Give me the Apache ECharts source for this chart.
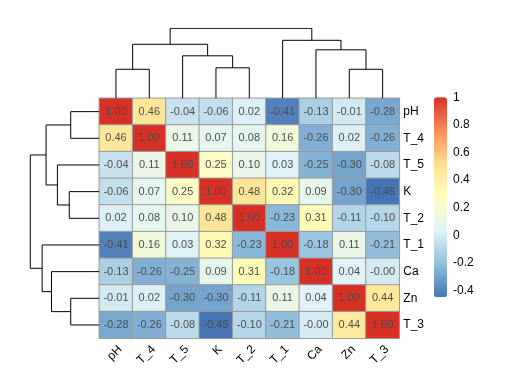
<!DOCTYPE html>
<html>
<head>
<meta charset="utf-8">
<script src="https://cdn.jsdelivr.net/npm/echarts@6/dist/echarts.min.js"></script>
<style>html,body{margin:0;padding:0;background:#fff}#c{width:517px;height:379px}</style>
</head>
<body>
<div id="c"></div>
<script>
// Variables in clustered order (rows and columns)
const labels = ['pH','T_4','T_5','K','T_2','T_1','Ca','Zn','T_3'];
// Correlation matrix (row by row, same order as labels)
const rowPH  = [ 1.00, 0.46,-0.04,-0.06, 0.02,-0.41,-0.13,-0.01,-0.28];
const rowT4  = [ 0.46, 1.00, 0.11, 0.07, 0.08, 0.16,-0.26, 0.02,-0.26];
const rowT5  = [-0.04, 0.11, 1.00, 0.25, 0.10, 0.03,-0.25,-0.30,-0.08];
const rowK   = [-0.06, 0.07, 0.25, 1.00, 0.48, 0.32, 0.09,-0.30,-0.45];
const rowT2  = [ 0.02, 0.08, 0.10, 0.48, 1.00,-0.23, 0.31,-0.11,-0.10];
const rowT1  = [-0.41, 0.16, 0.03, 0.32,-0.23, 1.00,-0.18, 0.11,-0.21];
const rowCa  = [-0.13,-0.26,-0.25, 0.09, 0.31,-0.18, 1.00, 0.04,-0.004];
const rowZn  = [-0.01, 0.02,-0.30,-0.30,-0.11, 0.11, 0.04, 1.00, 0.44];
const rowT3  = [-0.28,-0.26,-0.08,-0.45,-0.10,-0.21,-0.004, 0.44, 1.00];
const matrix = [rowPH,rowT4,rowT5,rowK,rowT2,rowT1,rowCa,rowZn,rowT3];
// Hierarchical clustering merges: [childA, childB, height]; leaves 0..8, clusters 9..
const merges = [[0,1,0.58],[3,4,0.61],[2,10,0.85],[9,11,1.08],[7,8,0.58],[6,13,0.97],[5,14,1.16],[12,15,1.40]];
// Colour legend ticks
const legendTicks = [-0.4,-0.2,0,0.2,0.4,0.6,0.8,1];
const palette = ['#4575B4','#91BFDB','#E0F3F8','#FFFFBF','#FEE090','#FC8D59','#D73027'];

const heatData = [];
matrix.forEach((row, r) => row.forEach((v, c) => heatData.push([c, r, v])));
let vmin = Infinity, vmax = -Infinity;
heatData.forEach(d => { vmin = Math.min(vmin, d[2]); vmax = Math.max(vmax, d[2]); });

// Build dendrogram segments from merges
function dendroLines(vertical) {
  const pos = {}, hgt = {};
  labels.forEach((l, i) => { pos[i] = i; hgt[i] = 0; });
  const out = [];
  merges.forEach((m, k) => {
    const id = labels.length + k;
    const a = m[0], b = m[1], h = m[2];
    const pts = [[pos[a], hgt[a]], [pos[a], h], [pos[b], h], [pos[b], hgt[b]]];
    pos[id] = (pos[a] + pos[b]) / 2; hgt[id] = h;
    out.push(vertical ? pts.map(p => [p[1], p[0]]) : pts);
  });
  return out;
}
const lineStyle = {color: '#000', width: 1};
const series = [];
dendroLines(false).forEach(pts => series.push({type: 'line', xAxisIndex: 1, yAxisIndex: 1, data: pts, showSymbol: false, symbol: 'none', lineStyle, silent: true, animation: false}));
dendroLines(true).forEach(pts => series.push({type: 'line', xAxisIndex: 2, yAxisIndex: 2, data: pts, showSymbol: false, symbol: 'none', lineStyle, silent: true, animation: false}));
const heatIndex = series.length;
series.push({
  type: 'heatmap', xAxisIndex: 0, yAxisIndex: 0, data: heatData,
  label: {show: true, formatter: p => p.value[2].toFixed(2), color: '#4D4D4D', fontSize: 11, fontFamily: 'Liberation Sans'},
  itemStyle: {borderColor: '#999999', borderWidth: 1},
  emphasis: {disabled: true}, animation: false
});

const hidden = {show: false};
const chart = echarts.init(document.getElementById('c'), null, {renderer: 'canvas'});
chart.setOption({
  backgroundColor: '#fff',
  textStyle: {fontFamily: 'Liberation Sans'},
  grid: [
    {left: 99.3, top: 98.3, width: 300, height: 240},
    {left: 99.3, top: 28.3, width: 300, height: 70},
    {left: 30.3, top: 98.3, width: 69, height: 240},
    {left: 434, top: 97.3, width: 13, height: 200}
  ],
  xAxis: [
    {type: 'category', gridIndex: 0, data: labels, axisLine: hidden, axisTick: hidden,
     axisLabel: {rotate: 45, margin: 5, align: 'right', verticalAlign: 'top', fontSize: 12, color: '#000', fontFamily: 'Liberation Sans'}},
    {type: 'value', gridIndex: 1, min: -0.5, max: 8.5, show: false},
    {type: 'value', gridIndex: 2, min: 0, max: 1.40, inverse: true, show: false},
    {type: 'value', gridIndex: 3, min: 0, max: 1, show: false}
  ],
  yAxis: [
    {type: 'category', gridIndex: 0, data: labels, inverse: true, position: 'right', axisLine: hidden, axisTick: hidden,
     axisLabel: {margin: 4, fontSize: 12, color: '#000', fontFamily: 'Liberation Sans'}},
    {type: 'value', gridIndex: 1, min: 0, max: 1.40, show: false},
    {type: 'value', gridIndex: 2, min: -0.5, max: 8.5, inverse: true, show: false},
    {type: 'value', gridIndex: 3, min: vmin, max: vmax, position: 'right', splitLine: hidden, axisLine: hidden,
     axisTick: {show: false, customValues: legendTicks},
     axisLabel: {customValues: legendTicks, margin: 6, fontSize: 12, color: '#000', fontFamily: 'Liberation Sans',
       formatter: v => String(Math.round(v * 10) / 10)}}
  ],
  visualMap: {
    type: 'continuous', seriesIndex: heatIndex, min: vmin, max: vmax, calculable: false,
    left: 434, top: 97.3, itemWidth: 13, itemHeight: 200, padding: 0, text: null,
    showLabel: false, hoverLink: false,
    inRange: {color: palette}
  },
  series
});
</script>
</body>
</html>
